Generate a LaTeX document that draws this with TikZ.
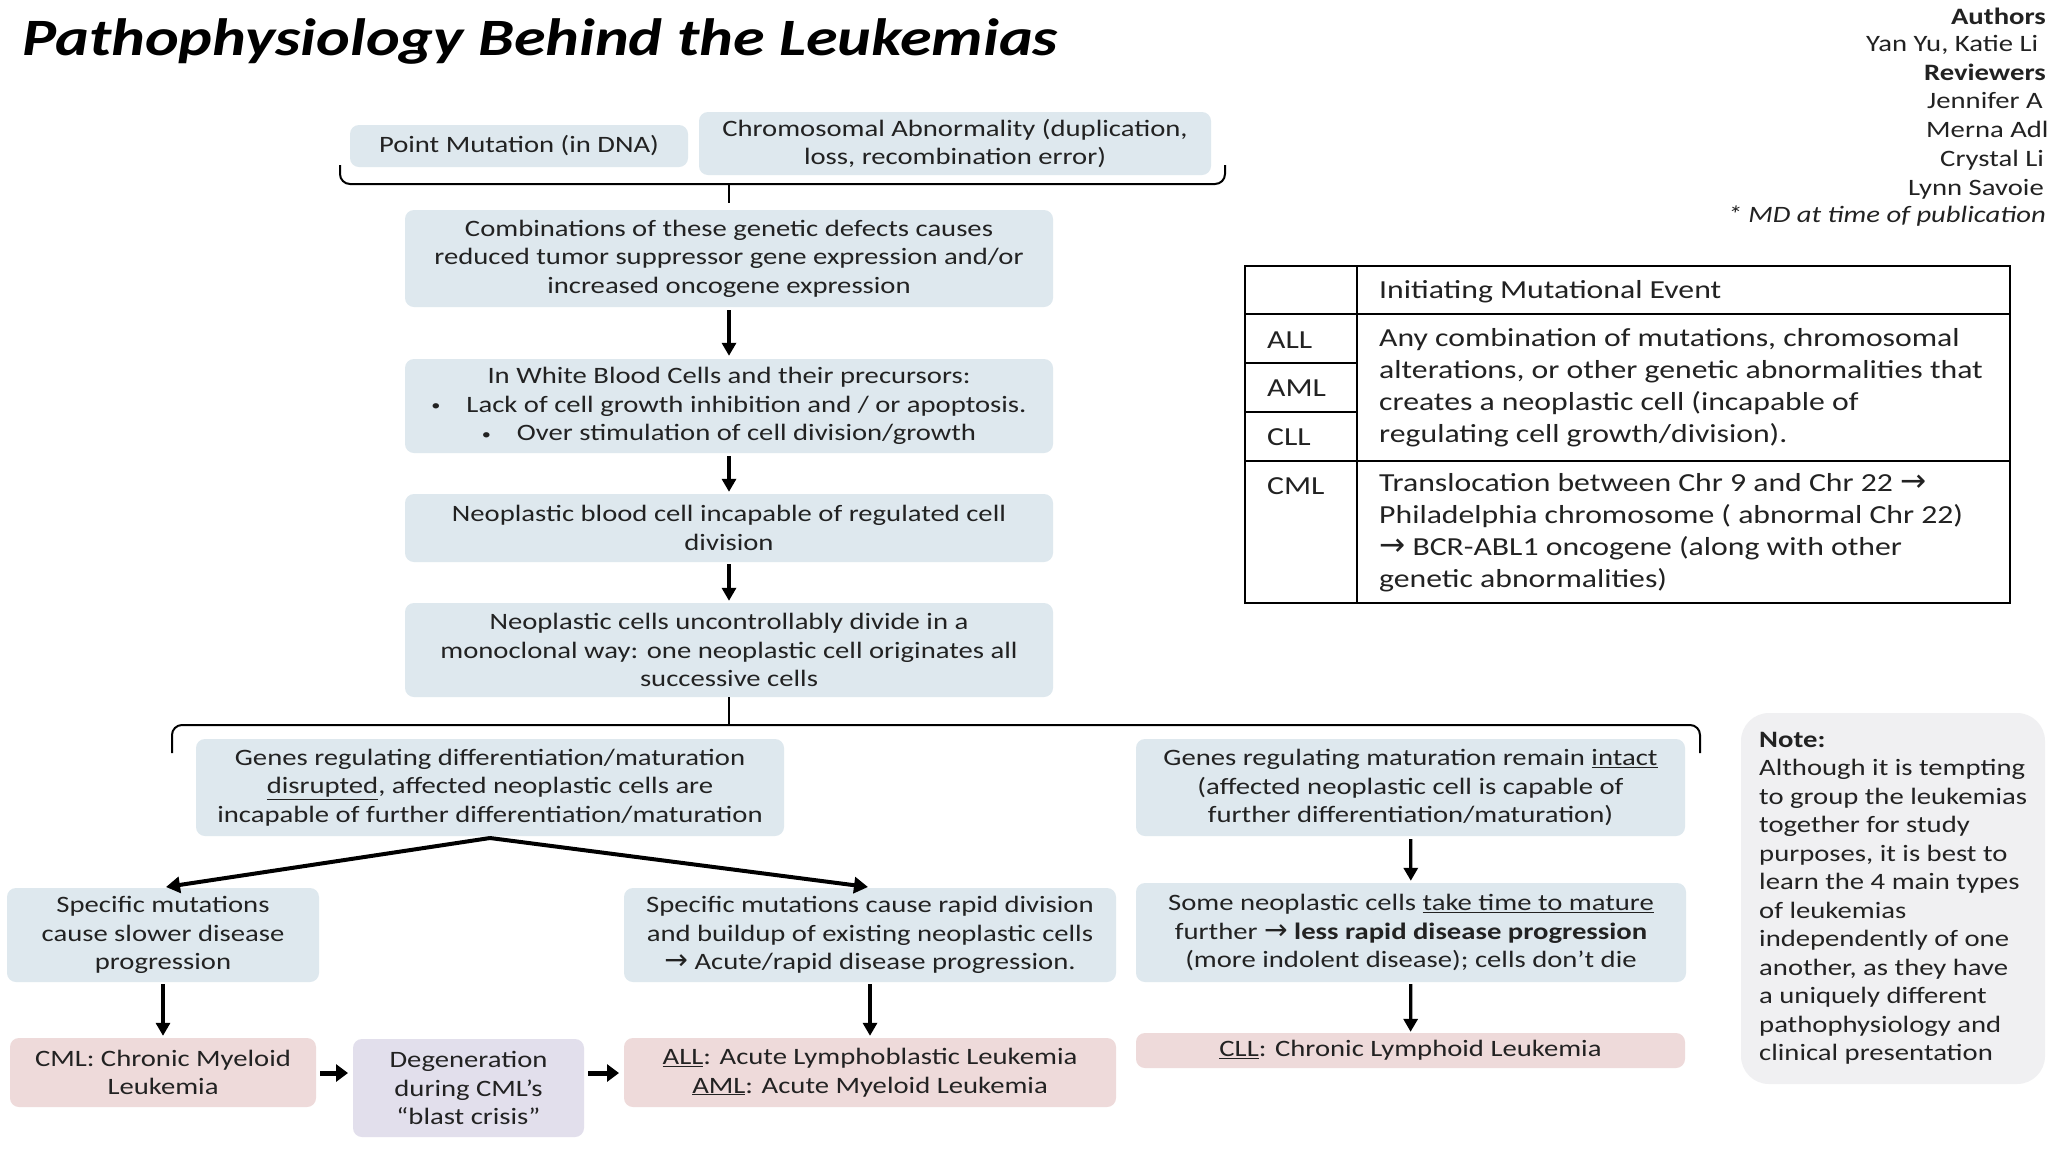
\documentclass[tikz,border=0pt]{standalone}
\usepackage{fontspec}
\setmainfont{Carlito}[FakeStretch=1.22]
\newfontfamily\arrfont{DejaVu Sans}[Scale=1.2]
\usetikzlibrary{arrows.meta}
\newcommand\rarr{{\arrfont →}}
\newcommand\smbullet{{\fontsize{15}{15}\selectfont\raisebox{1.5pt}{\textbullet}}}
\newcommand\fsbox{\fontsize{23.5}{28.5}\selectfont}
\newcommand\fstab{\fontsize{26}{32}\selectfont}
\definecolor{boxblue}{HTML}{DEE8EE}
\definecolor{boxpink}{HTML}{EEDADA}
\definecolor{boxlav}{HTML}{E2DFEC}
\definecolor{notegray}{HTML}{F0F0F2}
\definecolor{txt}{HTML}{222222}
\tikzset{
  flow/.style={rounded corners=9pt, fill=boxblue, align=center, inner sep=0pt, font=\fsbox, text=txt},
  pinkbox/.style={flow, fill=boxpink},
  lavbox/.style={flow, fill=boxlav},
  arr/.style={line width=3.2pt, -{Triangle[length=13pt,width=14pt]}},
  diag/.style={line width=4pt, -{Triangle[length=14pt,width=16pt]}},
  sidearr/.style={line width=5pt, -{Triangle[length=12pt,width=17pt]}},
  brace/.style={line width=2pt, rounded corners=10pt},
  tab/.style={line width=2.5pt},
  tabtxt/.style={font=\fstab, inner sep=0pt, text=txt, align=left},
  side/.style={font=\fsbox, inner sep=0pt, text=txt},
}
\begin{document}
\begin{tikzpicture}[x=1pt,y=-1pt]
\useasboundingbox (0,0) rectangle (2048,1152);
\clip (0,0) rectangle (2048,1152);
\fill[white] (0,0) rectangle (2048,1152);

% title
\node[anchor=base west, inner sep=0pt, font=\fontsize{52.5}{62}\selectfont\bfseries\itshape] (title) at (22,55) {Pathophysiology Behind the Leukemias};

% authors
\node[side, anchor=base east, font=\fsbox\bfseries] (au1) at (2046,24) {Authors};
\node[side, anchor=base west] (au2) at (1866,51) {Yan Yu, Katie Li};
\node[side, anchor=base east, font=\fsbox\bfseries] (au3) at (2046,80) {Reviewers};
\node[side, anchor=base west] (au4) at (1927,108) {Jennifer A};
\node[side, anchor=base west] (au5) at (1926,137) {Merna Adl};
\node[side, anchor=base west] (au6) at (1940,166) {Crystal Li};
\node[side, anchor=base west] (au7) at (1908,195) {Lynn Savoie};
\node[side, anchor=base east, font=\fsbox\itshape] (au8) at (2046,222) {* MD at time of publication};

% top boxes
\node[flow, minimum width=338pt, minimum height=42pt] (pm) at (519,146) {Point Mutation (in DNA)};
\node[flow, minimum width=512pt, minimum height=63pt] (ca) at (955,143.5) {Chromosomal Abnormality (duplication,\\loss, recombination error)};

% brace 1
\coordinate (b1l) at (340,165);
\coordinate (b1r) at (1225,165);
\coordinate (b1c) at (729,184);
\coordinate (b1t) at (729,203);
\draw[brace] (b1l) -- (340,184) -- (1225,184) -- (b1r);
\draw[line width=2pt] (b1c) -- (b1t);

\node[flow, minimum width=648pt, minimum height=97pt] (comb) at (729,258.5) {Combinations of these genetic defects causes\\reduced tumor suppressor gene expression and/or\\increased oncogene expression};
\node[flow, minimum width=648pt, minimum height=94pt] (wbc) at (729,406) {In White Blood Cells and their precursors:\\\smbullet\hspace{26pt}Lack of cell growth inhibition and / or apoptosis.\\\smbullet\hspace{26pt}Over stimulation of cell division/growth};
\node[flow, minimum width=648pt, minimum height=68pt] (neo1) at (729,528) {Neoplastic blood cell incapable of regulated cell\\division};
\node[flow, minimum width=648pt, minimum height=94pt] (neo2) at (729,650) {Neoplastic cells uncontrollably divide in a\\monoclonal way: one neoplastic cell originates all\\successive cells};

\draw[arr, shorten <=3pt, shorten >=3pt] (comb) -- (wbc);
\draw[arr, shorten <=3pt, shorten >=2pt] (wbc) -- (neo1);
\draw[arr, shorten <=2pt, shorten >=2pt] (neo1) -- (neo2);

% brace 2
\coordinate (b2l) at (172,753);
\coordinate (b2r) at (1700,753);
\coordinate (b2c) at (729,725);
\draw[brace] (b2l) -- (172,725) -- (1700,725) -- (b2r);
\draw[line width=2pt] (b2c) -- (neo2.south);

\node[flow, minimum width=588pt, minimum height=97pt] (gdis) at (490,787.5) {Genes regulating differentiation/maturation\\\underline{disrupted}, affected neoplastic cells are\\incapable of further differentiation/maturation};
\node[flow, minimum width=549pt, minimum height=97pt] (gint) at (1410.5,787.5) {Genes regulating maturation remain \underline{intact}\\(affected neoplastic cell is capable of\\further differentiation/maturation)};

\node[flow, minimum width=312pt, minimum height=94pt] (slow) at (163,935) {Specific mutations\\cause slower disease\\progression};
\node[flow, minimum width=492pt, minimum height=94pt] (rapid) at (870,935) {Specific mutations cause rapid division\\and buildup of existing neoplastic cells\\\rarr{} Acute/rapid disease progression.};
\node[flow, minimum width=550pt, minimum height=99pt] (take) at (1411,932.5) {Some neoplastic cells \underline{take time to mature}\\further \rarr{} \textbf{less rapid disease progression}\\(more indolent disease); cells don’t die};

\coordinate (gdisb) at (490,838);
\coordinate (slowtip) at (166,887);
\coordinate (rapidtip) at (868,887);
\draw[diag] (gdisb) -- (slowtip);
\draw[diag] (gdisb) -- (rapidtip);
\draw[arr, shorten <=3pt, shorten >=2pt] (gint) -- (take);

\node[pinkbox, minimum width=306pt, minimum height=69pt] (cml) at (163,1072.5) {CML: Chronic Myeloid\\Leukemia};
\node[lavbox, minimum width=231pt, minimum height=98pt] (deg) at (468.5,1088) {Degeneration\\during CML’s\\“blast crisis”};
\node[pinkbox, minimum width=492pt, minimum height=69pt] (all) at (870,1072.5) {\underline{ALL}: Acute Lymphoblastic Leukemia\\\underline{AML}: Acute Myeloid Leukemia};
\node[pinkbox, minimum width=549pt, minimum height=35pt] (cll) at (1410.5,1050.5) {\underline{CLL}: Chronic Lymphoid Leukemia};

\draw[arr, shorten <=2pt, shorten >=2pt] (slow) -- (cml);
\draw[arr, shorten <=2pt, shorten >=2pt] (rapid) -- (all);
\draw[arr, shorten <=2pt, shorten >=1pt] (take) -- (cll);
\coordinate (s1a) at (317,1073);
\coordinate (s1b) at (352,1073);
\coordinate (s2a) at (585,1073);
\coordinate (s2b) at (623,1073);
\draw[sidearr, shorten <=3pt, shorten >=4pt] (s1a) -- (s1b);
\draw[sidearr, shorten <=3pt, shorten >=4pt] (s2a) -- (s2b);

% table
\draw[tab] (1245,266) rectangle (2010,603);
\draw[tab] (1357,266) -- (1357,603);
\draw[tab] (1245,314) -- (2010,314);
\draw[tab] (1245,461) -- (2010,461);
\draw[tab] (1245,363) -- (1357,363);
\draw[tab] (1245,412) -- (1357,412);
\node[tabtxt, anchor=west] (th) at (1379,292) {Initiating Mutational Event};
\node[tabtxt, anchor=west] (tall) at (1267,340) {ALL};
\node[tabtxt, anchor=west] (taml) at (1267,388) {AML};
\node[tabtxt, anchor=west] (tcll) at (1267,437) {CLL};
\node[tabtxt, anchor=west] (tcml) at (1267,486) {CML};
\node[tabtxt, anchor=west] (tc1) at (1379,388) {Any combination of mutations, chromosomal\\alterations, or other genetic abnormalities that\\creates a neoplastic cell (incapable of\\regulating cell growth/division).};
\node[tabtxt, anchor=west] (tc2) at (1379,533) {Translocation between Chr 9 and Chr 22 \rarr\\Philadelphia chromosome ( abnormal Chr 22)\\\rarr{} BCR-ABL1 oncogene (along with other\\genetic abnormalities)};

% note
\node[fill=notegray, rounded corners=28pt, minimum width=304pt, minimum height=371pt, inner sep=0pt] (note) at (1893,898.5) {};
\node[side, anchor=west, align=left] (notetxt) at (1759,898.5) {\textbf{Note:}\\Although it is tempting\\to group the leukemias\\together for study\\purposes, it is best to\\learn the 4 main types\\of leukemias\\independently of one\\another, as they have\\a uniquely different\\pathophysiology and\\clinical presentation};
\end{tikzpicture}
\end{document}
